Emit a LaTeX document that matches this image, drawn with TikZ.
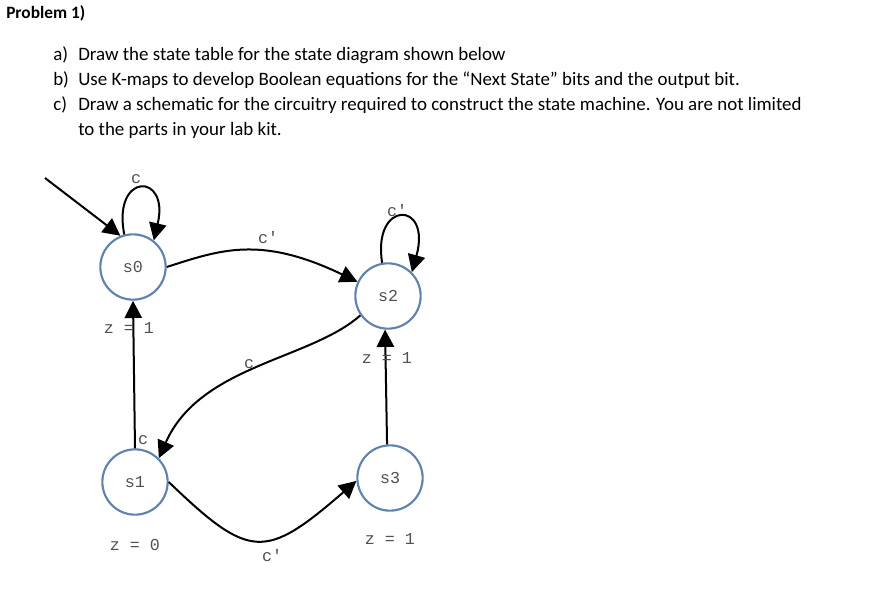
\documentclass[tikz,border=0pt]{standalone}
\usepackage{fontspec}
\setmainfont{Carlito}
\newfontfamily\monof{Liberation Mono}
\usetikzlibrary{arrows.meta}
\definecolor{ring}{RGB}{95,130,175}
\definecolor{lbl}{RGB}{80,80,80}
\begin{document}
\begin{tikzpicture}[x=0.75pt,y=-0.75pt,
  st/.style={circle,draw=ring,line width=1.6pt,minimum size=49pt,inner sep=0pt,font=\monof\fontsize{12.5}{13}\selectfont,text=lbl},
  lab/.style={font=\monof\fontsize{12.5}{13}\selectfont,text=lbl,inner sep=0pt},
  txt/.style={anchor=base west,inner sep=0pt,font=\fontsize{14.2}{16}\selectfont},
  ar/.style={line width=1.5pt,-{Triangle[length=13pt,width=13pt]}},
  ln/.style={line width=1.5pt}]
\useasboundingbox (0,0) rectangle (893,600);
\node[txt,font=\bfseries\fontsize{13}{15}\selectfont] (p) at (6,18) {Problem 1)};
\node[txt] (la) at (53,60) {a)};
\node[txt] (ta) at (78,60) {Draw the state table for the state diagram shown below};
\node[txt] (lb) at (53,85) {b)};
\node[txt] (tb) at (78,85) {Use K-maps to develop Boolean equations for the “Next State” bits and the output bit.};
\node[txt] (lc) at (53,110) {c)};
\node[txt] (tc) at (78,110) {Draw a schematic for the circuitry required to construct the state machine. You are not limited};
\node[txt] (td) at (78,135) {to the parts in your lab kit.};

\node[st] (s0) at (133,267) {s0};
\node[st] (s2) at (388,296) {s2};
\node[st] (s1) at (135,482) {s1};
\node[st] (s3) at (390,478) {s3};

\coordinate (init) at (45,178);
\draw[ar] (init) -- (s0.112);
\draw[ar] (s0.105) .. controls (112,172) and (170,172) .. (s0.52);
\draw[ar] (s2.100) .. controls (372,200) and (432,200) .. (s2.45);
\draw[ar] (s1.north) -- (s0.south);
\draw[ar] (s3.95) -- (s2.265);
\draw[ar] (s0.east) .. controls (220,250) and (260,235) .. (s2.155);
\draw[ar] (s2.215) .. controls (310,360) and (200,365) .. (s1.45);
\draw[ar] (s1.east) .. controls (250,560) and (265,560) .. (s3.185);

\node[lab] (l1) at (136,179) {c};
\node[lab] (l2) at (268,238) {c'};
\node[lab] (l3) at (397,211) {c'};
\node[lab] (l4) at (249,364) {c};
\node[lab] (l5) at (143,440) {c};
\node[lab] (l6) at (272,556) {c'};
\node[lab] (z0) at (129,328) {z = 1};
\node[lab] (z2) at (387,358) {z = 1};
\node[lab] (z1) at (135,545) {z = 0};
\node[lab] (z3) at (390,539) {z = 1};
\end{tikzpicture}
\end{document}
